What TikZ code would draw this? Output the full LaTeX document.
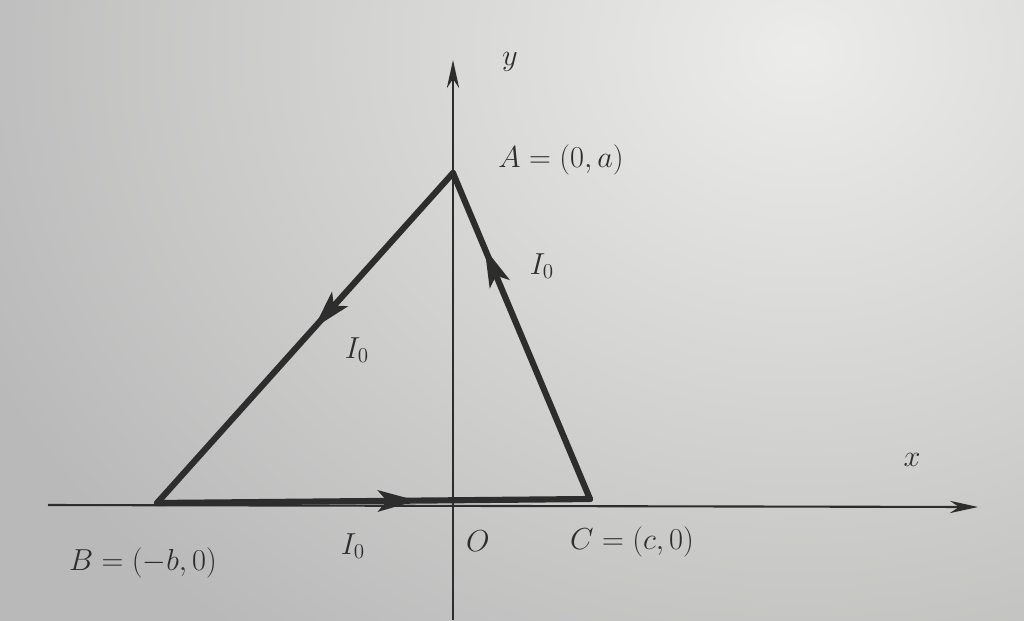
\documentclass[tikz,border=0pt]{standalone}
\usetikzlibrary{arrows.meta,decorations.markings}
\definecolor{ink}{RGB}{45,45,45}
\definecolor{bgl}{RGB}{185,185,185}
\definecolor{bgr}{RGB}{236,236,234}
\begin{document}
\begin{tikzpicture}[x=0.02cm,y=-0.02cm,
  lbl/.style={text=ink,font=\fontsize{18.8}{22}\selectfont,inner sep=0pt},
  axis/.style={draw=ink,line width=1.2pt,-{Stealth[length=16pt,width=7pt]}},
  side/.style={draw=ink,line width=3.5pt,line cap=round,line join=round},
  midarrow/.style={postaction={decorate},decoration={markings,
     mark=at position #1 with {\arrow{Stealth[length=22pt,width=12pt,inset=5pt]}}}}]
\useasboundingbox (0,0) rectangle (1024,620);
\begin{scope}
\clip (0,0) rectangle (1024,620);
\shade[inner color=bgr,outer color=bgl] (-100,-700) rectangle (1700,800);
\end{scope}
\coordinate (A) at (453,173);
\coordinate (B) at (157,503);
\coordinate (C) at (590,499);
\coordinate (xs) at (48,505);
\coordinate (xe) at (978,507);
\coordinate (ys) at (453,620);
\coordinate (ye) at (453,60);
\draw[axis] (xs) -- (xe);
\draw[axis] (ys) -- (ye);
\draw[side,midarrow=0.47] (A) -- (B);
\draw[side,midarrow=0.6] (B) -- (C);
\draw[side,midarrow=0.77] (C) -- (A);
\node[lbl] (ylab) at (510,62) {$y$};
\node[lbl] (xlab) at (912,460) {$x$};
\node[lbl] (Alab) at (561,160) {$A=(0,a)$};
\node[lbl] (Blab) at (143,563) {$B=(-b,0)$};
\node[lbl] (Clab) at (632,542) {$C=(c,0)$};
\node[lbl] (Olab) at (478,541) {$O$};
\node[lbl] (I1) at (542,266) {$I_0$};
\node[lbl] (I2) at (357,350) {$I_0$};
\node[lbl] (I3) at (353,546) {$I_0$};
\end{tikzpicture}
\end{document}
